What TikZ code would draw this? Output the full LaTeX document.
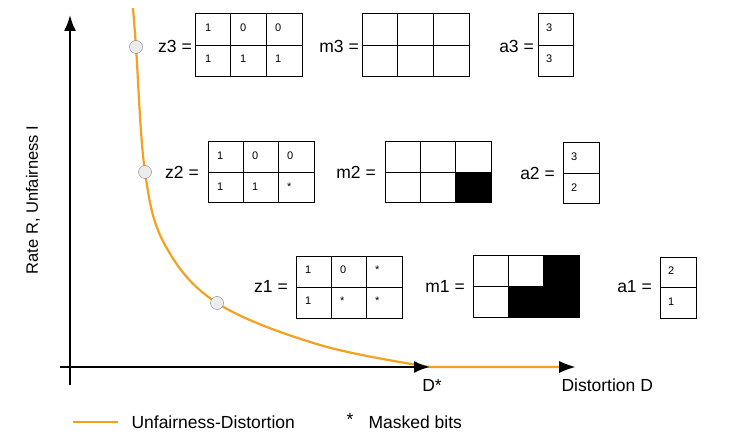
\documentclass[tikz,border=0pt]{standalone}
\usepackage{fontspec}
\setmainfont{Liberation Sans}
\usetikzlibrary{arrows.meta}
\definecolor{curve}{RGB}{245,160,30}
\tikzset{lbl/.style={font=\fontsize{17.5}{20}\selectfont,anchor=east,inner sep=1pt},
  big/.style={font=\fontsize{17.5}{20}\selectfont},
  cell/.style={font=\fontsize{11}{12}\selectfont,anchor=north west,inner sep=0pt},
  pt/.style={circle,draw=gray,fill=gray!15,minimum size=13pt,inner sep=0pt}}
\newcommand{\grid}[5]{% x0 y0 x1 y1 cols
  \draw[line width=1pt] (#1,#2) rectangle (#3,#4);
  \draw[line width=1pt] (#1,{(#2+#4)/2}) -- (#3,{(#2+#4)/2});
  \foreach \i in {1,...,#5}{\ifnum\i<#5 \draw[line width=1pt] ({#1+(#3-#1)*\i/#5},#2) -- ({#1+(#3-#1)*\i/#5},#4);\fi}}
\begin{document}
\begin{tikzpicture}[x=1pt,y=-1pt]
\useasboundingbox (0,0) rectangle (738,446);
% curve
\draw[curve,line width=2.2pt] plot[smooth,tension=0.6] coordinates {(133,8)(136,47)(145,172)(165,245)(217,303)(320,345)(430,367)} -- (565,367);
% axes
\draw[line width=2pt,-{Latex[length=16pt,width=12pt]}] (70,385) -- (70,15) coordinate (ytop);
\draw[line width=2pt,-{Latex[length=16pt,width=12pt]}] (60,367) -- (430,367) coordinate (dpt);
\draw[curve,line width=2.2pt] (430,367) -- (565,367);
\draw[line width=0pt,-{Latex[length=16pt,width=12pt]}] (560,367) -- (575,367) coordinate (xend);
\node[rotate=90,font=\fontsize{16.5}{20}\selectfont] (ylab) at (33,200) {Rate R, Unfairness I};
\node[big,anchor=west] (dlab) at (558,385) {Distortion D};
\node[big] (dstar) at (432,385) {D*};
\node[pt] (p3) at (136,47) {};
\node[pt] (p2) at (145,172) {};
\node[pt] (p1) at (217,303) {};
% z3
\node[lbl] (z3l) at (193,46) {z3 =};
\grid{195}{14}{302}{77}{3}
\node[cell] at (205,24) {1};\node[cell] at (240,24) {0};\node[cell] at (275,24) {0};
\node[cell] at (205,55) {1};\node[cell] at (240,55) {1};\node[cell] at (275,55) {1};
\node[lbl] (m3l) at (360,46) {m3 =};
\grid{362}{14}{469}{77}{3}
\node[lbl] (a3l) at (535,46) {a3 =};
\grid{538}{14}{573}{77}{1}
\node[cell] at (546,24) {3};\node[cell] at (546,55) {3};
% z2
\node[lbl] (z2l) at (200,172) {z2 =};
\grid{208}{142}{314}{203}{3}
\node[cell] at (217,152) {1};\node[cell] at (252,152) {0};\node[cell] at (287,152) {0};
\node[cell] at (217,183) {1};\node[cell] at (252,183) {1};\node[cell] at (287,183) {*};
\node[lbl] (m2l) at (377,172) {m2 =};
\fill (455,172) rectangle (491,203);
\grid{385}{142}{491}{203}{3}
\node[lbl] (a2l) at (556,173) {a2 =};
\grid{563}{143}{599}{204}{1}
\node[cell] at (571,153) {3};\node[cell] at (571,184) {2};
% z1
\node[lbl] (z1l) at (289,286) {z1 =};
\grid{296}{256}{402}{318}{3}
\node[cell] at (305,266) {1};\node[cell] at (340,266) {0};\node[cell] at (375,266) {*};
\node[cell] at (305,297) {1};\node[cell] at (340,297) {*};\node[cell] at (375,297) {*};
\node[lbl] (m1l) at (466,286) {m1 =};
\fill (544,255) rectangle (579,317);
\fill (508,286) rectangle (544,317);
\grid{473}{255}{579}{317}{3}
\node[lbl] (a1l) at (653,287) {a1 =};
\grid{660}{257}{696}{318}{1}
\node[cell] at (668,267) {2};\node[cell] at (668,298) {1};
% legend
\draw[curve,line width=2.2pt] (73,422) coordinate (la) -- (118,422) coordinate (lb);
\node[big,anchor=west] (leg1) at (128,422) {Unfairness-Distortion};
\node[big] (star) at (350,419) {*};
\node[big,anchor=west] (leg2) at (365,422) {Masked bits};
\end{tikzpicture}
\end{document}
